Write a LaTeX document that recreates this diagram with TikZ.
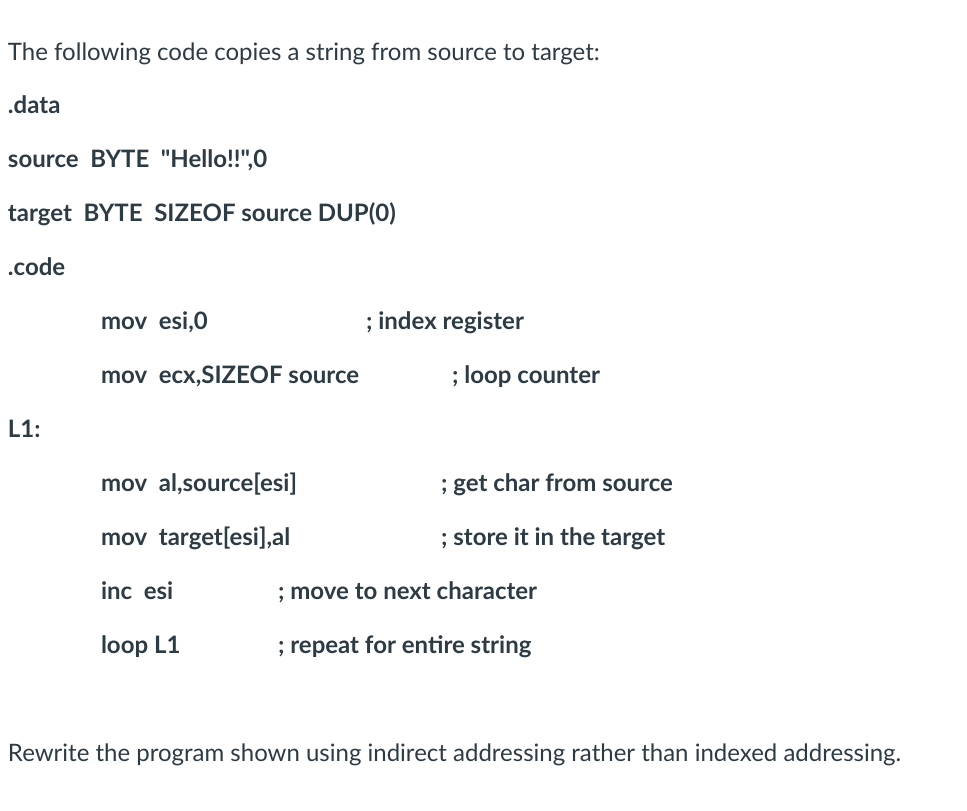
\documentclass[tikz,border=0pt]{standalone}
\usepackage{fontspec}
\setmainfont{Lato}[Ligatures=TeXOff]
\definecolor{txt}{HTML}{2D3B45}
\begin{document}
\begin{tikzpicture}[x=1pt,y=-1pt,
  every node/.style={inner sep=0pt,outer sep=0pt,anchor=base west,text=txt},
  plain/.style={font=\fontsize{24}{29}\selectfont},
  code/.style={font=\fontsize{24}{29}\selectfont\bfseries}]
\useasboundingbox[fill=white] (0,0) rectangle (967,811);
\node[plain] (intro) at (8,60) {The following code copies a string from source to target:};
\node[code] (data) at (8,113.5) {.data};
\node[code] (src) at (8,167.5) {source\ \ BYTE\ \ "Hello!!",0};
\node[code] (tgt) at (8,221.5) {target\ \ BYTE\ \ SIZEOF source DUP(0)};
\node[code] (codesec) at (8,275.5) {.code};
\node[code] (i1) at (101,329.5) {mov\ \ esi,0};
\node[code] (c1) at (366,329.5) {; index register};
\node[code] (i2) at (101,383.5) {mov\ \ ecx,SIZEOF source};
\node[code] (c2) at (452,383.5) {; loop counter};
\node[code] (lbl) at (8,437.5) {L1:};
\node[code] (i3) at (101,491.5) {mov\ \ al,source[esi]};
\node[code] (c3) at (441,491.5) {; get char from source};
\node[code] (i4) at (101,545.5) {mov\ \ target[esi],al};
\node[code] (c4) at (441,545.5) {; store it in the target};
\node[code] (i5) at (101,599.5) {inc\ \ esi};
\node[code] (c5) at (278,599.5) {; move to next character};
\node[code] (i6) at (101,653.5) {loop L1};
\node[code] (c6) at (278,653.5) {; repeat for entire string};
\node[plain] (task) at (8,761) {Rewrite the program shown using indirect addressing rather than indexed addressing.};
\end{tikzpicture}
\end{document}
